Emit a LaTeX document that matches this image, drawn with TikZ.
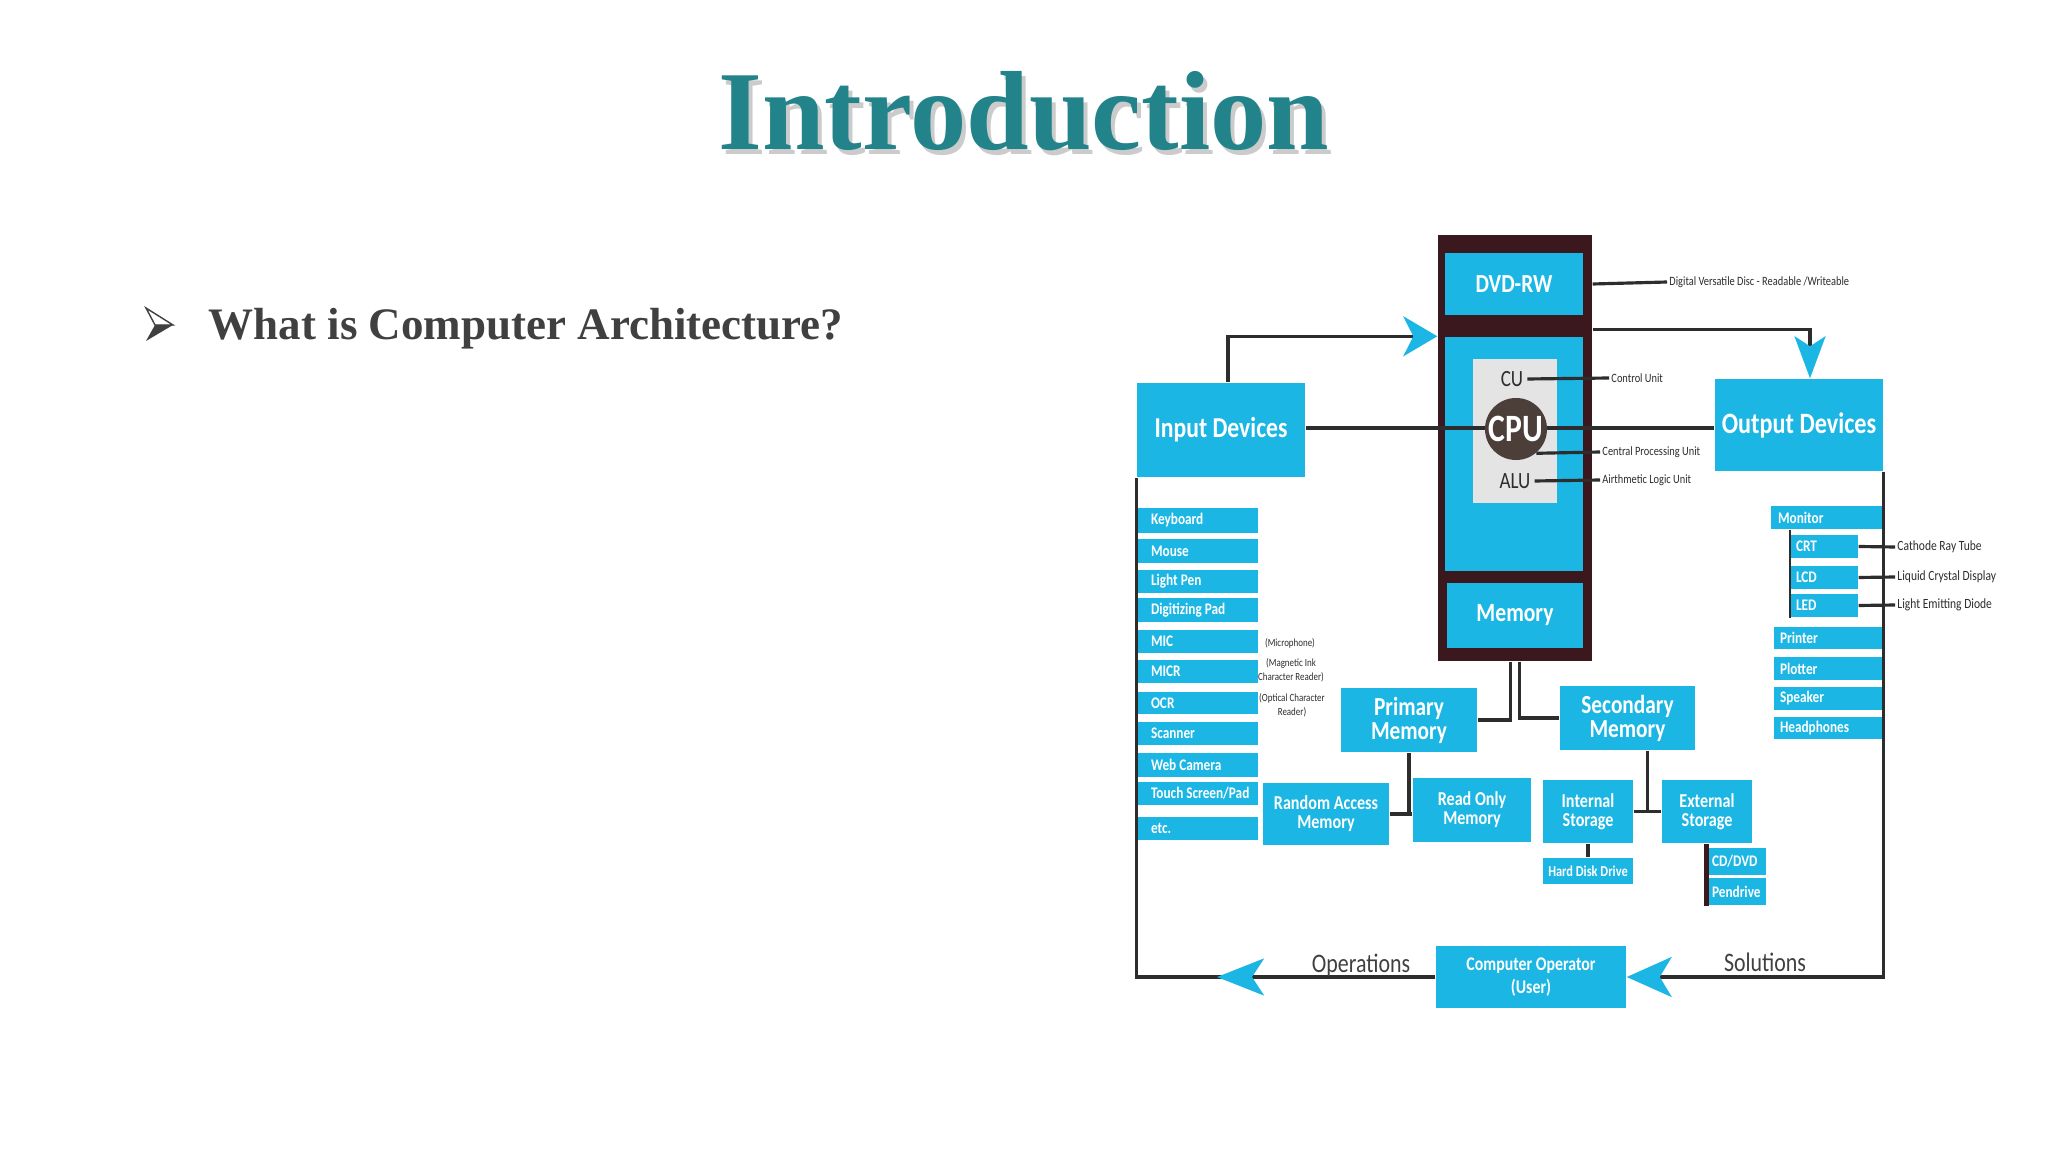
\documentclass[tikz,border=0pt]{standalone}
\usepackage{fontspec}
\setmainfont{Liberation Serif}
\newfontfamily\dg[FakeStretch=0.82]{Carlito}
\usetikzlibrary{arrows.meta,fit,calc}
\definecolor{cy}{RGB}{27,182,228}
\definecolor{dk}{RGB}{58,24,30}
\definecolor{pan}{RGB}{228,228,228}
\definecolor{cpuc}{RGB}{76,62,57}
\definecolor{ln}{RGB}{45,45,45}
\definecolor{ttl}{RGB}{34,132,138}
\definecolor{txt}{RGB}{64,64,64}
\newcommand\fsz[2]{\fontsize{#1pt}{#2pt}\selectfont}
\tikzset{
 cbox/.style={fill=cy, draw=none, inner sep=0pt},
 btext/.style={text=white, inner sep=0pt, align=center},
 conn/.style={draw=ln, line width=0.9pt},
 lconn/.style={draw=ln, line width=0.6pt},
 ltext/.style={text=white, inner sep=0pt, font=\dg\bfseries\fsz{4.6}{5}},
 note/.style={text=ln, inner sep=0.5pt, font=\dg\fsz{3.6}{4}},
 tnote/.style={text=ln, inner sep=0pt, align=center, font=\dg\fsz{3.1}{4}},
}
% list box: name x1 y1 x2 y2 inset text
\newcommand\lbox[7]{\node[cbox, fit={(#2,#3) (#4,#5)}] (#1) {};
 \node[ltext, anchor=west] (#1t) at ([xshift=#6cm]#1.west) {#7};}
% centred box: name, fit points, font, text
\newcommand\tbox[4]{\node[cbox, fit={#2}] (#1) {};
 \node[btext, font=#3] (#1t) at (#1.center) {#4};}
\begin{document}
\begin{tikzpicture}[x=0.01cm, y=-0.01cm]
\fill[white] (0,0) rectangle (2048,1152);
\useasboundingbox (0,0) rectangle (2048,1152);

% title
\node[anchor=base, font=\fsz{32}{36}\bfseries, text=black!40, opacity=0.5] (titlesh) at (1028,155) {Introduction};
\node[anchor=base, font=\fsz{32}{36}\bfseries, text=ttl] (title) at (1024,150) {Introduction};

% bullet
\filldraw[fill=white, draw=txt, line width=0.4pt] (146,308) -- (173,325) -- (155,325) -- cycle;
\fill[txt] (155,325) -- (173,325) -- (146,341) -- cycle;
\node[anchor=base west, inner sep=0pt, font=\fsz{12.8}{14}\bfseries, text=txt] (q) at (208,340) {What is Computer Architecture?};

% central column
\node[fit={(1438,235) (1592,661)}, fill=dk, inner sep=0pt] (col) {};
\tbox{dvd}{(1445,253) (1583,315)}{\dg\bfseries\fsz{7.4}{7}}{DVD-RW}
\node[cbox, fit={(1445,337) (1583,571)}] (cpub) {};
\node[fit={(1473,359) (1557,503)}, fill=pan, inner sep=0pt] (panel) {};
\tbox{mem}{(1447,583) (1583,648)}{\dg\bfseries\fsz{7.5}{7}}{Memory}

% input / output boxes
\tbox{indev}{(1137,383) (1305,477)}{\dg\bfseries\fsz{8.2}{8}}{Input Devices}
\tbox{outdev}{(1715,379) (1883,471)}{\dg\bfseries\fsz{8.4}{8}}{Output Devices}

% labels in CPU panel
\node[inner sep=1pt, text=ln, font=\dg\fsz{6.6}{7}] (cu) at (1512,379) {CU};
\node[inner sep=1pt, text=ln, font=\dg\fsz{6.6}{7}] (alu) at (1515,481) {ALU};
\node[note, anchor=west] (dvdl) at (1667,282) {Digital Versatile Disc - Readable /Writeable};
\node[note, anchor=west] (cul) at (1609,378) {Control Unit};
\node[note, anchor=west] (cpul) at (1600,452) {Central Processing Unit};
\node[note, anchor=west] (alul) at (1600,480) {Airthmetic Logic Unit};

% connectors around column
\draw[conn] (col.east |- dvd.east) -- (dvdl.west);
\draw[conn] (cu.east) -- (cul.west);
\draw[conn] (alu.east) -- (alul.west);
\draw[conn] (indev.east |- 1516,428) -- (1516,428);
\draw[conn] (1516,428) -- (outdev.west |- 1516,428);
\node[circle, fill=cpuc, minimum size=0.62cm, inner sep=0pt, text=white, font=\dg\bfseries\fsz{11}{11}] (cpu) at (1516,429) {CPU};
\draw[conn] (cpu.-50) -- (cpul.west);

\draw[conn, -{Stealth[length=0.34cm, width=0.40cm, inset=0.10cm, color=cy]}] ([xshift=0.07cm]indev.north) |- (col.west |- cpub.north);
\draw[conn, -{Stealth[length=0.42cm, width=0.31cm, inset=0.10cm, color=cy]}] ([yshift=0.07cm]cpub.north -| col.east) -| ([xshift=0.11cm]outdev.north);

% memory tree
\tbox{prim}{(1341,688) (1477,752)}{\dg\bfseries\fsz{7.4}{6.8}}{Primary\\Memory}
\tbox{sec}{(1560,686) (1695,750)}{\dg\bfseries\fsz{7.4}{6.8}}{Secondary\\Memory}
\tbox{ram}{(1263,783) (1389,845)}{\dg\bfseries\fsz{5.6}{5.4}}{Random Access\\Memory}
\tbox{rom}{(1413,778) (1531,842)}{\dg\bfseries\fsz{5.6}{5.4}}{Read Only\\Memory}
\tbox{int}{(1543,780) (1633,843)}{\dg\bfseries\fsz{5.6}{5.4}}{Internal\\Storage}
\tbox{ext}{(1662,780) (1752,843)}{\dg\bfseries\fsz{5.6}{5.4}}{External\\Storage}
\tbox{hdd}{(1543,858) (1633,884)}{\dg\bfseries\fsz{4.3}{5}}{Hard Disk Drive}
\lbox{cd}{1707}{848}{1766}{875}{0.05}{CD/DVD}
\lbox{pen}{1707}{878}{1766}{905}{0.05}{Pendrive}

\draw[conn] ([xshift=-0.045cm]col.south) |- (prim.east);
\draw[conn] ([xshift=0.045cm]col.south) |- (sec.west);
\draw[conn] (prim.south) -- (prim.south |- ram.east);
\draw[conn] (ram.east) -- (ram.east -| rom.west);
\path (int.east) -- (ext.west) coordinate[midway] (ie);
\draw[conn] (int.east) -- (ext.west);
\draw[conn] (sec.south -| ie) -- (ie);
\draw[conn] (int.south) -- (hdd.north);
\draw[draw=dk, line width=1.3pt] (ext.south -| cd.west) -- (pen.south west);

% input list
\lbox{kb}{1138}{508}{1258}{533}{0.13}{Keyboard}
\lbox{mo}{1138}{539}{1258}{563}{0.13}{Mouse}
\lbox{lp}{1138}{570}{1258}{593}{0.13}{Light Pen}
\lbox{dp}{1138}{598}{1258}{622}{0.13}{Digitizing Pad}
\lbox{mic}{1138}{630}{1258}{653}{0.13}{MIC}
\lbox{micr}{1138}{660}{1258}{683}{0.13}{MICR}
\lbox{ocr}{1138}{692}{1258}{714}{0.13}{OCR}
\lbox{sc}{1138}{722}{1258}{745}{0.13}{Scanner}
\lbox{wc}{1138}{753}{1258}{777}{0.13}{Web Camera}
\lbox{ts}{1138}{782}{1258}{805}{0.13}{Touch Screen/Pad}
\lbox{etc}{1138}{817}{1258}{840}{0.13}{etc.}
\node[tnote] (micn) at (1290,643) {(Microphone)};
\node[tnote] (micrn) at (1291,670) {(Magnetic Ink\\Character Reader)};
\node[tnote] (ocrn) at (1292,705) {(Optical Character\\Reader)};

% output list
\lbox{mon}{1771}{506}{1883}{529}{0.07}{Monitor}
\lbox{crt}{1791}{535}{1858}{558}{0.05}{CRT}
\lbox{lcd}{1791}{566}{1858}{589}{0.05}{LCD}
\lbox{led}{1791}{594}{1858}{617}{0.05}{LED}
\lbox{pr}{1774}{627}{1883}{649}{0.06}{Printer}
\lbox{pl}{1774}{657}{1883}{680}{0.06}{Plotter}
\lbox{sp}{1774}{687}{1883}{710}{0.06}{Speaker}
\lbox{hp}{1774}{717}{1883}{739}{0.06}{Headphones}
\draw[lconn] (mon.south -| crt.west) -- (led.south west);
\node[note, anchor=west, font=\dg\fsz{4}{4}] (crtl) at (1895,547) {Cathode Ray Tube};
\node[note, anchor=west, font=\dg\fsz{4}{4}] (lcdl) at (1895,577) {Liquid Crystal Display};
\node[note, anchor=west, font=\dg\fsz{4}{4}] (ledl) at (1895,605) {Light Emitting Diode};
\draw[conn] (crt.east) -- (crtl.west);
\draw[conn] (lcd.east) -- (lcdl.west);
\draw[conn] (led.east) -- (ledl.west);

% operator loop
\tbox{op}{(1436,946) (1626,1008)}{\dg\bfseries\fsz{5.5}{6.6}}{Computer Operator\\(User)}
\coordinate (optip) at (1217,977);
\draw[conn] (op.west) -| (indev.south west);
\draw[conn, -{Stealth[length=0.47cm, width=0.37cm, inset=0.12cm, color=cy]}] (op.west) -- (op.west -| optip);
\draw[conn, -{Stealth[length=0.45cm, width=0.40cm, inset=0.12cm, color=cy]}] (outdev.south east) |- (op.east);
\node[text=txt, inner sep=0pt, font=\dg\fsz{7.6}{8}] (opsl) at (1361,965) {Operations};
\node[text=txt, inner sep=0pt, font=\dg\fsz{7.6}{8}] (soll) at (1765,962) {Solutions};
\end{tikzpicture}
\end{document}
